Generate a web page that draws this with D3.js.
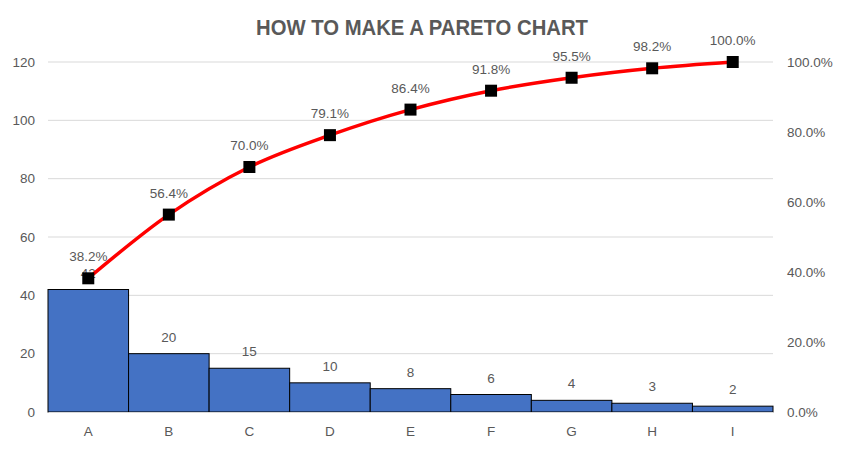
<!DOCTYPE html>
<html><head><meta charset="utf-8">
<script src="https://cdn.jsdelivr.net/npm/d3@7"></script>
<style>body{margin:0;background:#fff;} svg{display:block;}</style>
</head><body><div id="chart"></div>
<script>
const categories = ["A","B","C","D","E","F","G","H","I"];
const counts = [42,20,15,10,8,6,4,3,2];
const cumulativePct = [38.2,56.4,70.0,79.1,86.4,91.8,95.5,98.2,100.0];
const leftTicks = [0,20,40,60,80,100,120];
const rightTicks = [0,20,40,60,80,100];
const title = "HOW TO MAKE A PARETO CHART";

const W = 847, H = 451;
const m = {left:48, right:74, top:62, bottom:39};
const svg = d3.select("#chart").append("svg").attr("width",W).attr("height",H);
const font = "'Liberation Sans', Arial, sans-serif";
const grey = "#595959";
const fs = "13.5px";

const x = d3.scaleBand().domain(categories).range([m.left, W-m.right]).padding(0);
const y = d3.scaleLinear().domain([0,120]).range([H-m.bottom, m.top]);
const y2 = d3.scaleLinear().domain([0,100]).range([H-m.bottom, m.top]);

// gridlines
svg.append("g").selectAll("line").data(leftTicks).join("line")
  .attr("x1", m.left).attr("x2", W-m.right)
  .attr("y1", d=>y(d)).attr("y2", d=>y(d))
  .attr("stroke","#d9d9d9").attr("stroke-width",1);

// left axis
const la = svg.append("g").attr("transform",`translate(${m.left},0)`)
  .call(d3.axisLeft(y).tickValues(leftTicks).tickSize(0).tickPadding(13));
la.select(".domain").remove();
la.selectAll("text").attr("fill",grey).style("font-family",font).style("font-size",fs);

// right axis
const ra = svg.append("g").attr("transform",`translate(${W-m.right},0)`)
  .call(d3.axisRight(y2).tickValues(rightTicks).tickSize(0).tickPadding(14).tickFormat(d=>d.toFixed(1)+"%"));
ra.select(".domain").remove();
ra.selectAll("text").attr("fill",grey).style("font-family",font).style("font-size",fs);

// bars
svg.append("g").selectAll("rect").data(categories).join("rect")
  .attr("x", d=>x(d)).attr("width", x.bandwidth())
  .attr("y", (d,i)=>y(counts[i])).attr("height",(d,i)=>y(0)-y(counts[i]))
  .attr("fill","#4472c4").attr("stroke","#000").attr("stroke-width",1);

// bottom axis
const ba = svg.append("g").attr("transform",`translate(0,${H-m.bottom})`)
  .call(d3.axisBottom(x).tickSize(0).tickPadding(14));
ba.select(".domain").attr("stroke","#d9d9d9");
ba.selectAll("text").attr("fill",grey).style("font-family",font).style("font-size",fs);

// bar labels
svg.append("g").selectAll("text").data(categories).join("text")
  .attr("x", d=>x(d)+x.bandwidth()/2).attr("y",(d,i)=>y(counts[i])-12)
  .attr("text-anchor","middle").attr("fill",grey)
  .style("font-family",font).style("font-size",fs)
  .text((d,i)=>counts[i]);

// line
const cx = d=>x(d)+x.bandwidth()/2;
svg.append("path").datum(categories)
  .attr("d", d3.line().x(cx).y((d,i)=>y2(cumulativePct[i])).curve(d3.curveMonotoneX))
  .attr("fill","none").attr("stroke","#ff0000").attr("stroke-width",3.5);

svg.append("g").selectAll("rect").data(categories).join("rect")
  .attr("x", d=>cx(d)-6).attr("y",(d,i)=>y2(cumulativePct[i])-6)
  .attr("width",12).attr("height",12).attr("fill","#000");

svg.append("g").selectAll("text").data(categories).join("text")
  .attr("x", cx).attr("y",(d,i)=>y2(cumulativePct[i])-17)
  .attr("text-anchor","middle").attr("fill",grey)
  .style("font-family",font).style("font-size",fs)
  .text((d,i)=>cumulativePct[i].toFixed(1)+"%");

// title
svg.append("text").attr("x",422).attr("y",35).attr("text-anchor","middle")
  .attr("fill",grey).style("font-family",font).style("font-size","22px").style("font-weight","bold")
  .attr("textLength",332).attr("lengthAdjust","spacingAndGlyphs")
  .text(title);
</script></body></html>
